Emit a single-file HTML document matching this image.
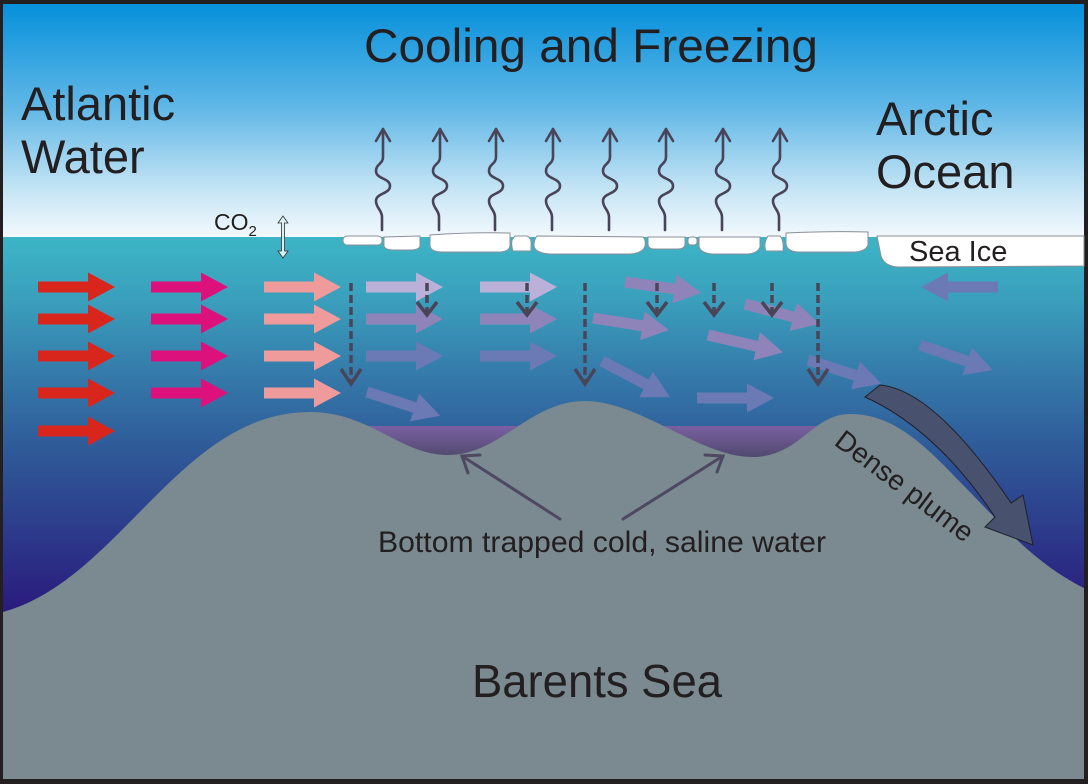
<!DOCTYPE html>
<html>
<head>
<meta charset="utf-8">
<style>
html,body{margin:0;padding:0;background:#231f20;}
body{width:1088px;height:784px;overflow:hidden;}
svg{display:block;}
text{font-family:"Liberation Sans",Arial,sans-serif;fill:#231f20;}
</style>
</head>
<body>
<svg width="1088" height="784" viewBox="0 0 1088 784" xmlns="http://www.w3.org/2000/svg">
<defs>
<linearGradient id="sky" x1="0" y1="4" x2="0" y2="237" gradientUnits="userSpaceOnUse">
<stop offset="0" stop-color="#0590db"/>
<stop offset="0.45" stop-color="#62b8e7"/>
<stop offset="0.8" stop-color="#c6e5f5"/>
<stop offset="1" stop-color="#f2f9fd"/>
</linearGradient>
<linearGradient id="water" x1="0" y1="237" x2="0" y2="610" gradientUnits="userSpaceOnUse">
<stop offset="0" stop-color="#3cb5c6"/>
<stop offset="0.17" stop-color="#3a9fbc"/>
<stop offset="0.38" stop-color="#3478a9"/>
<stop offset="0.57" stop-color="#2f5a98"/>
<stop offset="0.78" stop-color="#2c3c8b"/>
<stop offset="1" stop-color="#2a1b7d"/>
</linearGradient>
<linearGradient id="purp" x1="0" y1="426" x2="0" y2="462" gradientUnits="userSpaceOnUse">
<stop offset="0" stop-color="#7a60a2"/>
<stop offset="1" stop-color="#4a4666"/>
</linearGradient>
<g id="wave">
<path d="M0,230 L0,217 C0,210 -6,208 -6,201 C-6,193 8,194 8,186 C8,178 -6,179 -6,171 C-6,164 1,164 1,157 L1,129" fill="none" stroke="#4a4458" stroke-width="2.6" stroke-linecap="round"/>
<polyline points="-6,141 1,129 8,141" fill="none" stroke="#4a4458" stroke-width="2.6" stroke-linecap="round" stroke-linejoin="round"/>
</g>
<polygon id="arr" points="0,-5.5 50,-5.5 50,-14.5 77,0 50,14.5 50,5.5 0,5.5"/>
</defs>

<!-- frame -->
<rect x="0" y="0" width="1088" height="784" fill="#231f20"/>
<!-- sky -->
<rect x="3" y="4" width="1081" height="234" fill="url(#sky)"/>
<!-- water -->
<rect x="3" y="237" width="1081" height="542" fill="url(#water)"/>

<!-- wavy heat arrows -->
<use href="#wave" x="382"/>
<use href="#wave" x="439"/>
<use href="#wave" x="495"/>
<use href="#wave" x="552"/>
<use href="#wave" x="609"/>
<use href="#wave" x="665"/>
<use href="#wave" x="722"/>
<use href="#wave" x="779"/>

<!-- ice floes -->
<g fill="#ffffff" stroke="#8a8f98" stroke-width="1">
<rect x="343" y="236" width="39" height="9" rx="4"/>
<path d="M384,237 L420,236 L420,246 Q419,250 410,250 L394,250 Q385,250 384,246 Z"/>
<path d="M430,235 Q470,232 510,233 L510,246 Q509,252 498,252 L442,252 Q431,252 430,246 Z"/>
<path d="M515,236 L527,236 Q532,238 531,246 L531,251 L513,251 Q511,245 512,240 Z"/>
<path d="M537,236 L643,237 Q646,240 645,246 Q643,253 630,254 L550,254 Q535,253 534,246 Q534,239 537,236 Z"/>
<path d="M648,237 L685,237 L685,245 Q684,249 678,249 L654,249 Q648,249 648,244 Z"/>
<rect x="688" y="237" width="9" height="8" rx="3"/>
<path d="M699,237 L760,237 L760,247 Q758,253 748,254 L712,254 Q700,253 699,246 Z"/>
<path d="M768,236 L780,236 Q784,240 783,251 L766,251 Q763,244 768,236 Z"/>
<path d="M786,233 Q830,231 868,232 L868,245 Q866,251 855,252 L797,252 Q787,251 786,244 Z"/>
<path d="M877,236 L1084,236 L1084,266 L898,267 Q884,266 881,256 Z"/>
</g>

<!-- CO2 double arrow -->
<path d="M283,216 L288,223 L284.5,223 L284.5,251 L288,251 L283,258 L278,251 L281.5,251 L281.5,223 L278,223 Z" fill="#d8f0f0" stroke="#333" stroke-width="0.8"/>

<!-- red arrows -->
<g fill="#d9261c">
<use href="#arr" x="38" y="287"/>
<use href="#arr" x="38" y="319"/>
<use href="#arr" x="38" y="356"/>
<use href="#arr" x="38" y="393"/>
<use href="#arr" x="38" y="431"/>
</g>
<g fill="#dc117b">
<use href="#arr" x="151" y="287"/>
<use href="#arr" x="151" y="319"/>
<use href="#arr" x="151" y="356"/>
<use href="#arr" x="151" y="393"/>
</g>
<g fill="#ef9b9b">
<use href="#arr" x="264" y="287"/>
<use href="#arr" x="264" y="319"/>
<use href="#arr" x="264" y="356"/>
<use href="#arr" x="264" y="393"/>
</g>
<!-- column 4 & 5 -->
<use href="#arr" x="366" y="287" fill="#bab0d8"/>
<use href="#arr" x="366" y="319" fill="#8f84b9"/>
<use href="#arr" x="366" y="356" fill="#6b7ab5"/>
<use href="#arr" transform="translate(367,392) rotate(18)" fill="#6b7ab5"/>
<use href="#arr" x="480" y="287" fill="#bab0d8"/>
<use href="#arr" x="480" y="319" fill="#8f84b9"/>
<use href="#arr" x="480" y="356" fill="#6b7ab5"/>
<!-- scattered arrows -->
<use href="#arr" transform="translate(625,282) rotate(8)" fill="#8f84b9"/>
<use href="#arr" transform="translate(593,318) rotate(9)" fill="#8f84b9"/>
<use href="#arr" transform="translate(708,335) rotate(13)" fill="#8f84b9"/>
<use href="#arr" transform="translate(745,304) rotate(15)" fill="#8f84b9"/>
<use href="#arr" transform="translate(602,361) rotate(28)" fill="#6b7ab5"/>
<use href="#arr" x="697" y="398" fill="#6b7ab5"/>
<use href="#arr" transform="translate(808,360) rotate(18)" fill="#6b7ab5"/>
<use href="#arr" transform="translate(998,287) rotate(180)" fill="#6b7ab5"/>
<use href="#arr" transform="translate(920,345) rotate(19)" fill="#6b7ab5"/>

<!-- dashed sinking arrows -->
<g fill="none" stroke="#4a4458" stroke-width="3.5">
<g stroke-dasharray="8,4">
<line x1="351" y1="283" x2="351" y2="381"/>
<line x1="427" y1="283" x2="427" y2="312"/>
<line x1="527" y1="283" x2="527" y2="312"/>
<line x1="585" y1="283" x2="585" y2="381"/>
<line x1="657" y1="283" x2="657" y2="312"/>
<line x1="714" y1="283" x2="714" y2="312"/>
<line x1="772" y1="283" x2="772" y2="312"/>
<line x1="818" y1="283" x2="818" y2="381"/>
</g>
<g stroke-linejoin="miter">
<polyline points="341,369 351,384 361,369"/>
<polyline points="417,302 427,315 437,302"/>
<polyline points="517,302 527,315 537,302"/>
<polyline points="575,369 585,384 595,369"/>
<polyline points="647,302 657,315 667,302"/>
<polyline points="704,302 714,315 724,302"/>
<polyline points="762,302 772,315 782,302"/>
<polyline points="808,369 818,384 828,369"/>
</g>
</g>

<!-- trapped water pockets -->
<rect x="360" y="426" width="465" height="45" fill="url(#purp)"/>

<!-- seafloor -->
<path d="M3,612 C120,580 180,412 310,412 C370,412 400,455 448,455 C500,455 530,401 585,401 C640,401 700,457 752,457 C800,457 812,414 850,414 C892,414 922,442 960,482 C1000,522 1032,562 1084,588 L1084,779 L3,779 Z" fill="#7a8a90"/>

<!-- dense plume arrow -->
<path d="M865,397 L880,385 Q934.5,390 1011,503 L1023,495 L1033,545 L985,527 L995,517 Q936,429 865,397 Z" fill="#48526f" stroke="#1f1f2a" stroke-width="1"/>

<!-- pointer arrows -->
<g fill="none" stroke="#4f4862" stroke-width="3" stroke-linecap="round">
<line x1="560" y1="519" x2="462" y2="456"/>
<polyline points="480,455 462,456 468,473"/>
<line x1="623" y1="519" x2="723" y2="456"/>
<polyline points="705,455 723,456 717,472"/>
</g>

<!-- labels -->
<text x="364" y="62" font-size="47" textLength="454" lengthAdjust="spacingAndGlyphs">Cooling and Freezing</text>
<text x="21" y="120" font-size="47">Atlantic</text>
<text x="21" y="173" font-size="47">Water</text>
<text x="876" y="135" font-size="47">Arctic</text>
<text x="876" y="188" font-size="47">Ocean</text>
<text x="909" y="261" font-size="29">Sea Ice</text>
<text x="214" y="230" font-size="23" fill="#000">CO<tspan font-size="15" dy="6">2</tspan></text>
<text x="378" y="552" font-size="29.5" textLength="448" lengthAdjust="spacingAndGlyphs">Bottom trapped cold, saline water</text>
<text x="472" y="697" font-size="46" textLength="250" lengthAdjust="spacingAndGlyphs" fill="#2b2b2b">Barents Sea</text>
<text transform="translate(833,444) rotate(37)" font-size="28">Dense plume</text>
</svg>
</body>
</html>
